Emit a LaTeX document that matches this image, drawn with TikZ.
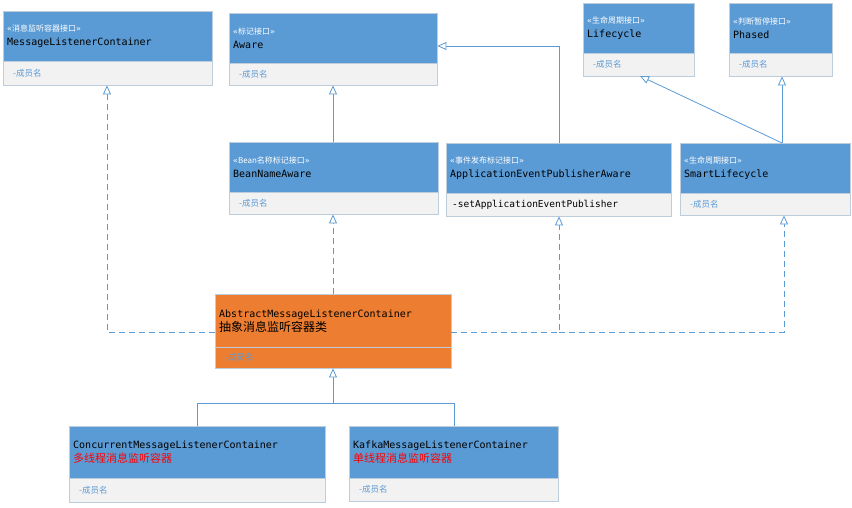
\documentclass[tikz,border=0pt]{standalone}
\usepackage{fontspec}
\setmainfont{DejaVu Sans Mono}
\newfontfamily\cjk{Noto Sans CJK SC}
\usetikzlibrary{arrows.meta, positioning}
\definecolor{hdblue}{RGB}{91,155,213}
\definecolor{bdgray}{RGB}{242,242,242}
\definecolor{edge}{RGB}{190,205,220}
\definecolor{lnblue}{RGB}{91,155,213}
\definecolor{orng}{RGB}{237,125,49}
\tikzset{
  hdr/.style = {rectangle, draw=edge, fill=hdblue, anchor=north west, align=left, inner xsep=4pt, font=\fontsize{10}{14}\selectfont},
  bdy/.style = {rectangle, draw=edge, fill=bdgray, anchor=north west, align=left, inner xsep=10pt, inner ysep=0pt, text=lnblue, font=\fontsize{8.5}{10}\cjk},
  impl/.style = {draw=lnblue, thick, dashed, dash pattern=on 6pt off 4pt, -{Triangle[open, length=9pt, width=8pt, fill=white]}},
  extd/.style = {draw=lnblue, thick, -{Triangle[open, length=9pt, width=8pt, fill=white]}},
  line/.style = {draw=lnblue, thick}
}
\newcommand{\stereo}[1]{{\fontsize{8}{10}\selectfont\textcolor{white}{<<{\cjk #1}>>}}}
\newcommand{\member}{-{\cjk 成员名}}

\begin{document}
\begin{tikzpicture}[x=1pt, y=-1pt]
\useasboundingbox (0,0) rectangle (852,507);

% interfaces, top row
\node (mlc) [hdr, text width=201pt, minimum height=50pt] at (3,11) {\stereo{消息监听容器接口}\\MessageListenerContainer};
\node (mlcb) [bdy, text width=189pt, minimum height=24pt] at (3,61) {\member};

\node (aware) [hdr, text width=200pt, minimum height=50pt] at (229,13) {\stereo{标记接口}\\Aware};
\node (awareb) [bdy, text width=188pt, minimum height=22pt] at (229,63) {\member};

\node (life) [hdr, text width=103pt, minimum height=50pt] at (583,3) {\stereo{生命周期接口}\\Lifecycle};
\node (lifeb) [bdy, text width=91pt, minimum height=23pt] at (583,53) {\member};

\node (phased) [hdr, text width=95pt, minimum height=50pt] at (729,3) {\stereo{判断暂停接口}\\Phased};
\node (phasedb) [bdy, text width=83pt, minimum height=23pt] at (729,53) {\member};

% interfaces, middle row
\node (bna) [hdr, text width=201pt, minimum height=50pt] at (229,142) {\stereo{Bean名称标记接口}\\BeanNameAware};
\node (bnab) [bdy, text width=189pt, minimum height=22pt] at (229,192) {\member};

\node (aepa) [hdr, text width=217pt, minimum height=50pt] at (446,143) {\stereo{事件发布标记接口}\\ApplicationEventPublisherAware};
\node (aepab) [bdy, text width=213pt, minimum height=23pt, inner xsep=6pt, text=black, font=\fontsize{9.5}{10}\selectfont] at (446,193) {-setApplicationEventPublisher};

\node (slc) [hdr, text width=162pt, minimum height=50pt] at (680,143) {\stereo{生命周期接口}\\SmartLifecycle};
\node (slcb) [bdy, text width=150pt, minimum height=22pt] at (680,193) {\member};

% abstract class
\node (amlc) [hdr, fill=orng, text width=228pt, minimum height=53pt] at (215,294) {AbstractMessageListenerContainer\\{\cjk\fontsize{12}{14}\selectfont 抽象消息监听容器类}};
\node (amlcb) [bdy, fill=orng, text width=216pt, minimum height=21pt] at (215,347) {\member};

% implementations
\node (cmlc) [hdr, text width=248pt, minimum height=52pt] at (69,426) {ConcurrentMessageListenerContainer\\{\cjk\fontsize{11}{14}\selectfont\color{red} 多线程消息监听容器}};
\node (cmlcb) [bdy, text width=236pt, minimum height=24pt] at (69,478) {\member};

\node (kmlc) [hdr, text width=201pt, minimum height=52pt] at (349,426) {KafkaMessageListenerContainer\\{\cjk\fontsize{11}{14}\selectfont\color{red} 单线程消息监听容器}};
\node (kmlcb) [bdy, text width=189pt, minimum height=23pt] at (349,478) {\member};

% helper points
\coordinate (jl) at (107,332);
\coordinate (jr) at (559,332);
\coordinate (jrr) at (784,332);
\coordinate (ja) at (559,46);
\coordinate (jb) at (197,403);
\coordinate (jc) at (333,403);
\coordinate (jd) at (454,403);
\coordinate (js) at (782,143);
\coordinate (jl2) at (640,76);

% connectors
\draw [impl] (amlc.west |- jl) -- (jl) -- (jl |- mlcb.south);
\draw [impl] (amlc.north -| jc) -- (jc |- bnab.south);
\draw [impl] (amlc.east |- jr) -- (jr) -- (jr |- aepab.south);
\draw [impl] (jr) -- (jrr) -- (jrr |- slcb.south);
\draw [extd] (bna.north -| jc) -- (jc |- awareb.south);
\draw [extd] (aepa.north -| ja) -- (ja) -- (ja -| aware.east);
\draw [extd] (js) -- (jl2);
\draw [extd] (js) -- (js |- phasedb.south);
\draw [line] (cmlc.north -| jb) -- (jb) -- (jd) -- (kmlc.north -| jd);
\draw [extd] (jc) -- (jc |- amlcb.south);

\end{tikzpicture}
\end{document}
